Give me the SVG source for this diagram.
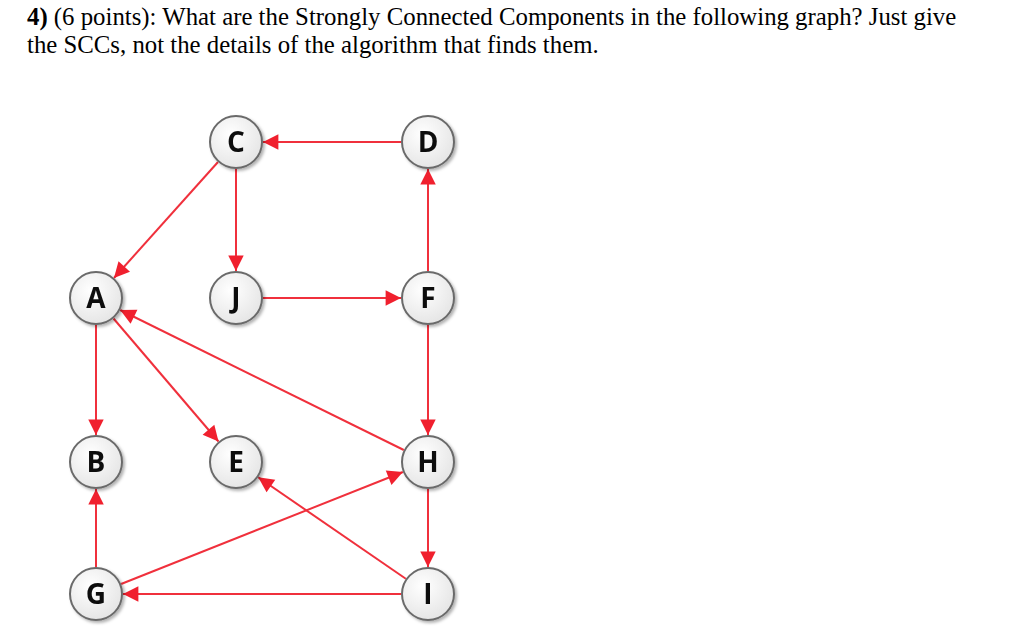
<svg xmlns="http://www.w3.org/2000/svg" width="1024" height="641" viewBox="0 0 1024 641">
<style>
.t{font-family:"Liberation Serif",serif;font-size:24.8px;fill:#000}
.n circle{fill:url(#g);stroke:#6a6a6a;stroke-width:2}
.n text{font-family:"Open Sans","DejaVu Sans",sans-serif;font-weight:bold;font-size:28px;text-anchor:middle;fill:#111}
.e line{stroke:#f0303c;stroke-width:2;marker-end:url(#ah)}
</style>
<defs>
<radialGradient id="g" cx="0.4" cy="0.35" r="0.7"><stop offset="0" stop-color="#ffffff"/><stop offset="1" stop-color="#e4e4e4"/></radialGradient>
<marker id="ah" viewBox="0 0 10 10" refX="10" refY="5" markerWidth="7" markerHeight="7" orient="auto" markerUnits="userSpaceOnUse" style="overflow:visible"><path d="M0,0 L10,5 L0,10 z" fill="#f0202e" transform="scale(2.2) translate(-5.45,-2.7)"/></marker>
<filter id="sh" x="-30%" y="-30%" width="160%" height="160%"><feDropShadow dx="2" dy="2" stdDeviation="1.5" flood-color="#000" flood-opacity="0.3"/></filter>
</defs>
<rect width="1024" height="641" fill="#fff"/>
<text class="t" x="27" y="25"><tspan font-weight="bold">4)</tspan> (6 points):  What are the Strongly Connected Components in the following graph?  Just give</text>
<text class="t" x="27" y="53">the SCCs, not the details of the algorithm that finds them.</text>
<g id="edges" class="e">
<line x1="218" y1="162" x2="114" y2="278"/>
<line x1="236" y1="169" x2="236" y2="271"/>
<line x1="401" y1="142" x2="263" y2="142"/>
<line x1="263" y1="298" x2="401" y2="298"/>
<line x1="428" y1="271" x2="428" y2="169"/>
<line x1="428" y1="325" x2="428" y2="435"/>
<line x1="96" y1="325" x2="96" y2="435"/>
<line x1="113.5" y1="318.5" x2="218.5" y2="441.5"/>
<line x1="403.8" y1="450" x2="120.2" y2="310"/>
<line x1="428" y1="489" x2="428" y2="567"/>
<line x1="405.8" y1="578.7" x2="258.2" y2="477.3"/>
<line x1="401" y1="594" x2="123" y2="594"/>
<line x1="96" y1="567" x2="96" y2="489"/>
<line x1="121.1" y1="584" x2="402.9" y2="472"/>
</g>
<g id="C" class="n" filter="url(#sh)"><circle cx="236" cy="142" r="26"/><text x="236" y="152">C</text></g>
<g id="D" class="n" filter="url(#sh)"><circle cx="428" cy="142" r="26"/><text x="428" y="152">D</text></g>
<g id="A" class="n" filter="url(#sh)"><circle cx="96" cy="298" r="26"/><text x="96" y="308">A</text></g>
<g id="J" class="n" filter="url(#sh)"><circle cx="236" cy="298" r="26"/><text x="236" y="308">J</text></g>
<g id="F" class="n" filter="url(#sh)"><circle cx="428" cy="298" r="26"/><text x="428" y="308">F</text></g>
<g id="B" class="n" filter="url(#sh)"><circle cx="96" cy="462" r="26"/><text x="96" y="472">B</text></g>
<g id="E" class="n" filter="url(#sh)"><circle cx="236" cy="462" r="26"/><text x="236" y="472">E</text></g>
<g id="H" class="n" filter="url(#sh)"><circle cx="428" cy="462" r="26"/><text x="428" y="472">H</text></g>
<g id="G" class="n" filter="url(#sh)"><circle cx="96" cy="594" r="26"/><text x="96" y="604">G</text></g>
<g id="I" class="n" filter="url(#sh)"><circle cx="428" cy="594" r="26"/><text x="428" y="604">I</text></g>
</svg>
